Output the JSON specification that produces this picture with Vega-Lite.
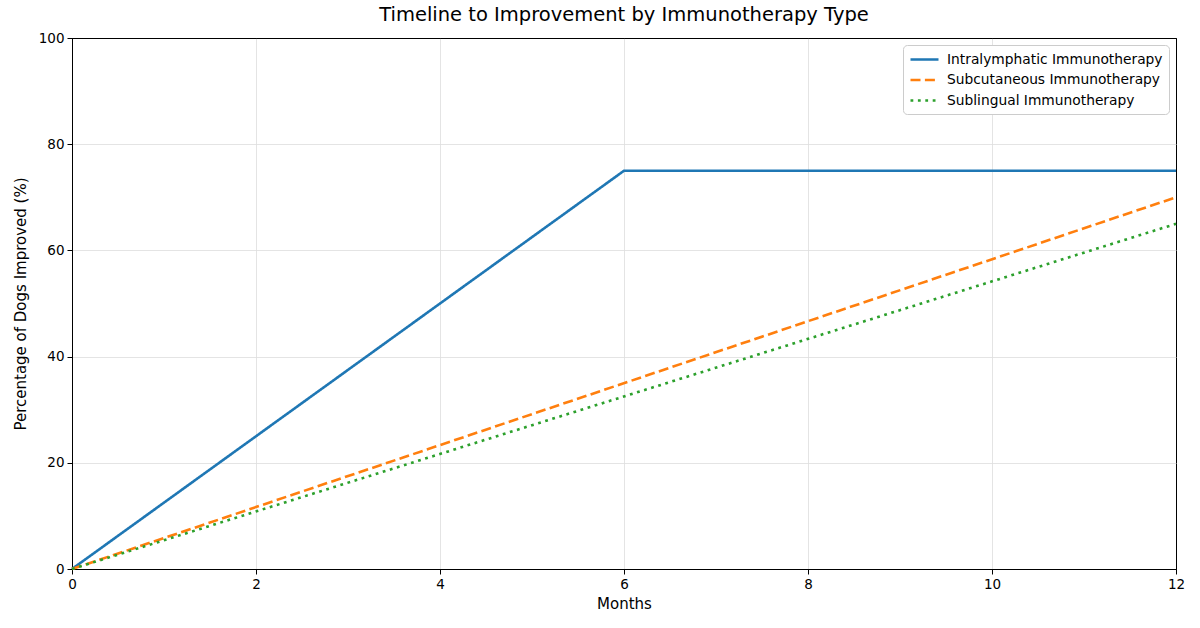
{
  "$schema": "https://vega.github.io/schema/vega-lite/v6.json",
  "width": 1104,
  "height": 531,
  "autosize": {"type": "none"},
  "padding": {"left": 72, "top": 38, "right": 24, "bottom": 59},
  "background": "white",
  "title": {"text": "Timeline to Improvement by Immunotherapy Type", "font": "DejaVu Sans", "fontSize": 19.5, "fontWeight": "normal", "color": "black", "offset": 6},
  "config": {
    "view": {"stroke": "black", "strokeWidth": 1},
    "axis": {"labelFont": "DejaVu Sans", "titleFont": "DejaVu Sans", "labelFontSize": 13.5, "titleFontSize": 15, "titleFontWeight": "normal", "labelColor": "black", "titleColor": "black", "domainColor": "black", "tickColor": "black", "tickSize": 5, "gridWidth": 0.8, "labelPadding": 3, "labelFlush": false}
  },
  "data": {"values": [
    {"Months": 0, "Percent": 0, "Type": "Intralymphatic Immunotherapy"},
    {"Months": 6, "Percent": 75, "Type": "Intralymphatic Immunotherapy"},
    {"Months": 12, "Percent": 75, "Type": "Intralymphatic Immunotherapy"},
    {"Months": 0, "Percent": 0, "Type": "Subcutaneous Immunotherapy"},
    {"Months": 12, "Percent": 70, "Type": "Subcutaneous Immunotherapy"},
    {"Months": 0, "Percent": 0, "Type": "Sublingual Immunotherapy"},
    {"Months": 12, "Percent": 65, "Type": "Sublingual Immunotherapy"}
  ]},
  "mark": {"type": "line", "strokeWidth": 2.6, "strokeCap": "butt"},
  "encoding": {
    "x": {"field": "Months", "type": "quantitative", "scale": {"domain": [0, 12], "nice": false}, "axis": {"values": [0, 2, 4, 6, 8, 10, 12], "title": "Months", "titlePadding": 6, "gridColor": {"condition": {"test": "datum.value == 0 || datum.value == 12", "value": "black"}, "value": "#dddddd"}}},
    "y": {"field": "Percent", "type": "quantitative", "scale": {"domain": [0, 100], "nice": false}, "axis": {"values": [0, 20, 40, 60, 80, 100], "title": "Percentage of Dogs Improved (%)", "titlePadding": 10, "gridColor": {"condition": {"test": "datum.value == 0 || datum.value == 100", "value": "black"}, "value": "#dddddd"}}},
    "color": {"field": "Type", "type": "nominal", "scale": {"domain": ["Intralymphatic Immunotherapy", "Subcutaneous Immunotherapy", "Sublingual Immunotherapy"], "range": ["#1f77b4", "#ff7f0e", "#2ca02c"]}, "legend": {"title": null, "orient": "top-right", "offset": 7, "fillColor": "white", "strokeColor": "#cccccc", "cornerRadius": 4, "padding": 6, "labelFont": "DejaVu Sans", "labelFontSize": 13.8, "labelColor": "black", "labelLimit": 400, "labelOffset": 21, "symbolType": "M-1,0H3", "symbolSize": 196, "symbolStrokeWidth": 2.6, "rowPadding": 4.5}},
    "strokeDash": {"field": "Type", "type": "nominal", "scale": {"domain": ["Intralymphatic Immunotherapy", "Subcutaneous Immunotherapy", "Sublingual Immunotherapy"], "range": [[1, 0], [10, 4.4], [2.8, 4.6]]}, "legend": null}
  }
}
